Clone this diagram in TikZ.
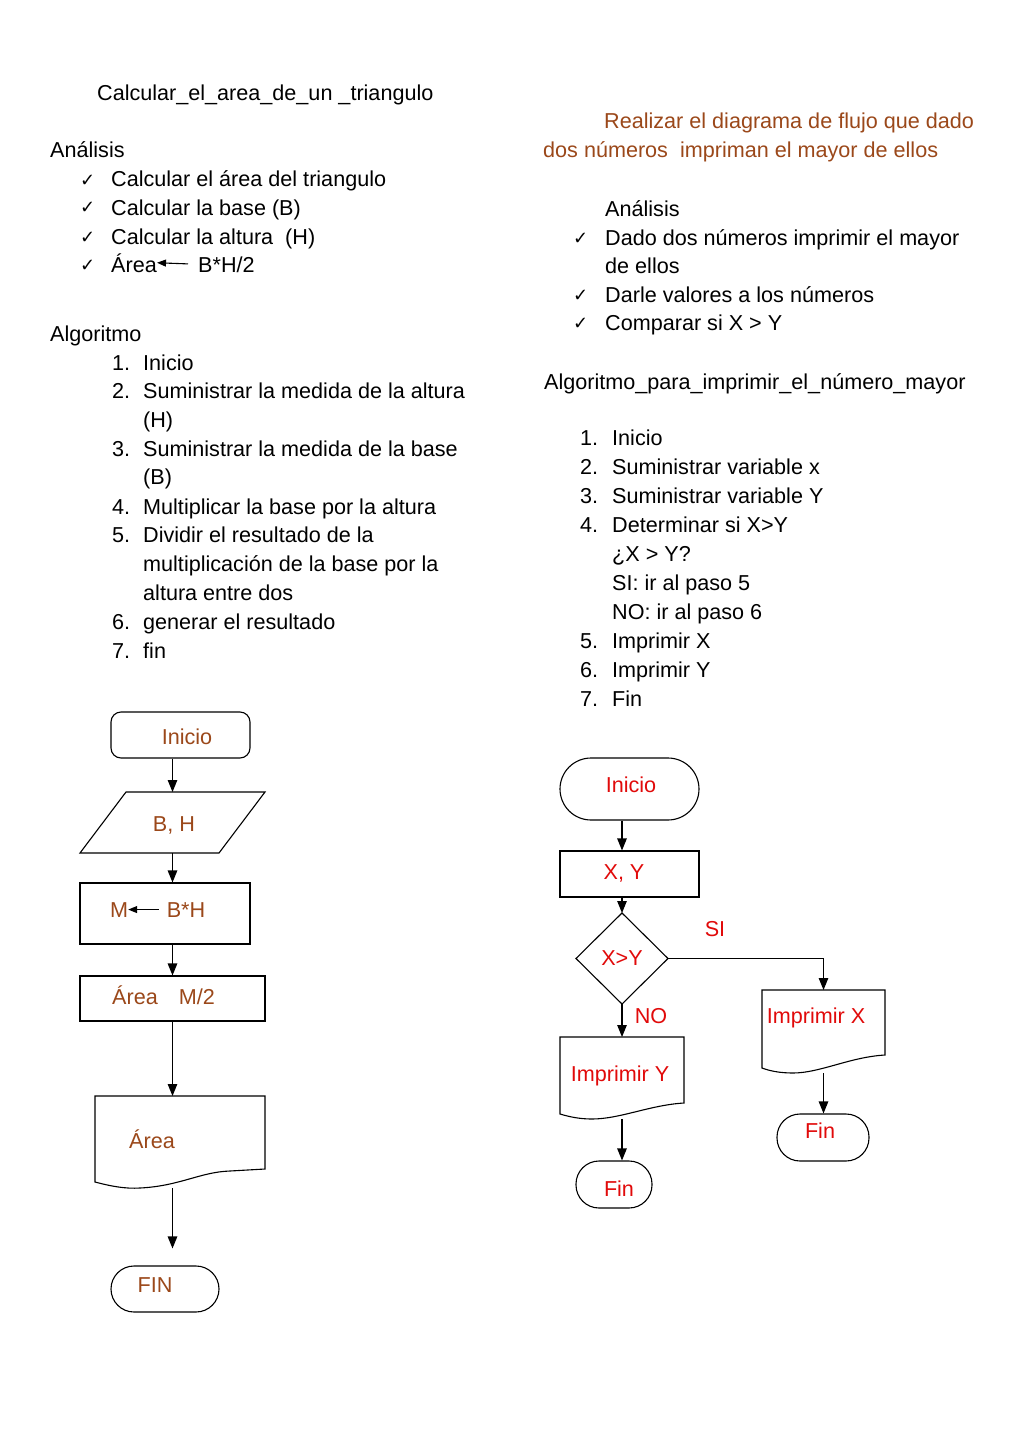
\documentclass[tikz,border=0pt]{standalone}
\usepackage{fontspec}
\setmainfont{Liberation Sans}
\newfontfamily\dejavu{DejaVu Sans}
\usetikzlibrary{arrows.meta,calc}
\definecolor{brn}{RGB}{155,72,26}
\definecolor{redtxt}{RGB}{225,10,10}
\tikzset{
  t/.style={anchor=base west, inner sep=0pt, font=\fontsize{21.6}{25}\selectfont},
  tc/.style={anchor=base, inner sep=0pt, font=\fontsize{21.6}{25}\selectfont},
  chk/.style={anchor=base west, inner sep=0pt, font=\dejavu\fontsize{18}{20}\selectfont},
  ln/.style={line width=1.1pt},
  arr/.style={line width=1.1pt, -{Triangle[length=12pt,width=9.5pt]}},
  arrs/.style={line width=1.1pt, -{Triangle[length=9pt,width=7pt]}},
  box/.style={draw, line width=1.1pt, inner sep=0pt},
  ghost/.style={inner sep=0pt, outer sep=0pt},
}
\begin{document}
\begin{tikzpicture}[x=1pt,y=-1pt]
\fill[white] (0,0) rectangle (1024,1450);
\useasboundingbox (0,0) rectangle (1024,1450);

% ---------------- left text ----------------
\node[t] (ltitle) at (97,101) {Calcular\_el\_area\_de\_un \_triangulo};
\node[t] (lan) at (50,158) {Análisis};
\node[chk] (lc1) at (80,186) {✓};
\node[t] (la1) at (111,187) {Calcular el área del triangulo};
\node[chk] (lc2) at (80,214) {✓};
\node[t] (la2) at (111,215) {Calcular la base (B)};
\node[chk] (lc3) at (80,243) {✓};
\node[t] (la3) at (111,244) {Calcular la altura\ \ (H)};
\node[chk] (lc4) at (80,271) {✓};
\node[t] (la4a) at (111,272) {Área};
\node[t] (la4b) at (198,272) {B*H/2};
\draw[arrs, shorten <=10pt] (la4b.west) -- (la4a.east);

\node[t] (lalg) at (50,341) {Algoritmo};
\node[t] (ln1) at (112,370) {1.};  \node[t] (lt1) at (143,370) {Inicio};
\node[t] (ln2) at (112,398) {2.};  \node[t] (lt2) at (143,398) {Suministrar la medida de la altura};
\node[t] (lt2b) at (143,427) {(H)};
\node[t] (ln3) at (112,456) {3.};  \node[t] (lt3) at (143,456) {Suministrar la medida de la base};
\node[t] (lt3b) at (143,484) {(B)};
\node[t] (ln4) at (112,514) {4.};  \node[t] (lt4) at (143,514) {Multiplicar la base por la altura};
\node[t] (ln5) at (112,542) {5.};  \node[t] (lt5) at (143,542) {Dividir el resultado de la};
\node[t] (lt5b) at (143,571) {multiplicación de la base por la};
\node[t] (lt5c) at (143,600) {altura entre dos};
\node[t] (ln6) at (112,629) {6.};  \node[t] (lt6) at (143,629) {generar el resultado};
\node[t] (ln7) at (112,658) {7.};  \node[t] (lt7) at (143,658) {fin};

% ---------------- right text ----------------
\node[t, text=brn] (rq1) at (604,129) {Realizar el diagrama de flujo que dado};
\node[t, text=brn] (rq2) at (543,158) {dos números\ \ impriman el mayor de ellos};
\node[t] (ran) at (605,216) {Análisis};
\node[chk] (rc1) at (573,244) {✓};
\node[t] (ra1) at (605,245) {Dado dos números imprimir el mayor};
\node[t] (ra1b) at (605,273) {de ellos};
\node[chk] (rc2) at (573,301) {✓};
\node[t] (ra2) at (605,302) {Darle valores a los números};
\node[chk] (rc3) at (573,329) {✓};
\node[t] (ra3) at (605,330) {Comparar si X > Y};

\node[t] (ralg) at (544,389) {Algoritmo\_para\_imprimir\_el\_número\_mayor};
\node[t] (rn1) at (580,445) {1.}; \node[t] (rt1) at (612,445) {Inicio};
\node[t] (rn2) at (580,474) {2.}; \node[t] (rt2) at (612,474) {Suministrar variable x};
\node[t] (rn3) at (580,503) {3.}; \node[t] (rt3) at (612,503) {Suministrar variable Y};
\node[t] (rn4) at (580,532) {4.}; \node[t] (rt4) at (612,532) {Determinar si X>Y};
\node[t] (rt4b) at (612,561) {¿X > Y?};
\node[t] (rt4c) at (612,590) {SI: ir al paso 5};
\node[t] (rt4d) at (612,619) {NO: ir al paso 6};
\node[t] (rn5) at (580,648) {5.}; \node[t] (rt5) at (612,648) {Imprimir X};
\node[t] (rn6) at (580,677) {6.}; \node[t] (rt6) at (612,677) {Imprimir Y};
\node[t] (rn7) at (580,706) {7.}; \node[t] (rt7) at (612,706) {Fin};

% ---------------- left flowchart ----------------
\node[box, minimum width=139pt, minimum height=46pt, rounded corners=10pt] (li) at (180.5,735) {};
\node[tc, text=brn] (lit) at (187,744) {Inicio};

\node[ghost, minimum width=185pt, minimum height=61pt] (lp) at (172.5,822.5) {};
\draw[ln] (lp.south west) -- ($(lp.north west)+(46,0)$) -- (lp.north east) -- ($(lp.south east)-(46,0)$) -- cycle;
\node[tc, text=brn] (lpt) at (174,831) {B, H};

\node[box, minimum width=170pt, minimum height=61pt] (lm) at (165,913.5) {};
\node[tc, text=brn] (lmt1) at (119,917) {M};
\node[tc, text=brn] (lmt2) at (186,917) {B*H};
\draw[arrs, shorten <=8pt] (lmt2.west) -- (lmt1.east);

\node[box, minimum width=185pt, minimum height=45pt] (la) at (172.5,998.5) {};
\node[tc, text=brn] (lat1) at (135,1004) {Área};
\node[tc, text=brn] (lat2) at (197,1004) {M/2};

\node[ghost, minimum width=170pt, minimum height=92pt] (ld) at (180,1142) {};
\draw[ln] (95,1096) -- (265,1096) -- (265,1169) -- (230,1171)
  .. controls (200,1172) and (180,1186) .. (140,1188)
  .. controls (125,1189) and (110,1186) .. (95,1182) -- cycle;
\node[tc, text=brn] (ldt) at (152,1148) {Área};

\node[box, minimum width=108pt, minimum height=46pt, rounded corners=23pt] (lf) at (165,1289) {};
\node[tc, text=brn] (lft) at (155,1292) {FIN};

\draw[arr] (li.south -| lp) -- (lp.north);
\draw[arr] (lp.south) -- (lp.south |- lm.north);
\draw[arr] (lm.south -| la) -- (la.north);
\draw[arr] (la.south) -- (la.south |- ld.north);
\draw[arr, shorten >=17pt] (la |- ld.south) -- (la |- lf.north);

% ---------------- right flowchart ----------------
\node[box, minimum width=139pt, minimum height=62pt, rounded corners=31pt] (ri) at (629.5,789) {};
\node[tc, text=redtxt] (rit) at (631,792) {Inicio};

\node[box, minimum width=139pt, minimum height=46pt] (rx) at (629.5,874) {};
\node[tc, text=redtxt] (rxt) at (624,879) {X, Y};

\node[ghost, minimum width=92pt, minimum height=91pt] (rd) at (622,958.5) {};
\draw[ln] (rd.north) -- (rd.east) -- (rd.south) -- (rd.west) -- cycle;
\node[tc, text=redtxt] (rdt) at (622,965) {X>Y};
\node[tc, text=redtxt] (rsi) at (715,936) {SI};
\node[tc, text=redtxt] (rno) at (651,1023) {NO};

\node[ghost, minimum width=123pt, minimum height=83pt] (rpx) at (823.5,1031.5) {};
\draw[ln] (762,990) -- (885,990) -- (885,1055)
  .. controls (850,1057) and (820,1073) .. (793,1073)
  .. controls (780,1073) and (770,1071) .. (762,1068) -- cycle;
\node[tc, text=redtxt] (rpxt) at (816,1023) {Imprimir X};

\node[ghost, minimum width=124pt, minimum height=82pt] (rpy) at (622,1078) {};
\draw[ln] (560,1037) -- (684,1037) -- (684,1103)
  .. controls (650,1105) and (620,1119) .. (592,1119)
  .. controls (580,1119) and (570,1117) .. (560,1114) -- cycle;
\node[tc, text=redtxt] (rpyt) at (620,1081) {Imprimir Y};

\node[box, minimum width=92pt, minimum height=47pt, rounded corners=23pt] (rfx) at (823,1137.5) {};
\node[tc, text=redtxt] (rfxt) at (820,1138) {Fin};

\node[box, minimum width=76pt, minimum height=47pt, rounded corners=23pt] (rfy) at (614,1184.5) {};
\node[tc, text=redtxt] (rfyt) at (619,1196) {Fin};

\draw[arr] (rd |- ri.south) -- (rd |- rx.north);
\draw[arr] (rd |- rx.south) -- (rd.north);
\draw[arr] (rd.east) -| (rpx.north);
\draw[arr] (rd.south) -- (rpy.north);
\draw[arr] (rpy.south) -- (rpy.south |- rfy.north);
\draw[arr] (rpx.south) -- (rpx.south |- rfx.north);
\end{tikzpicture}
\end{document}
